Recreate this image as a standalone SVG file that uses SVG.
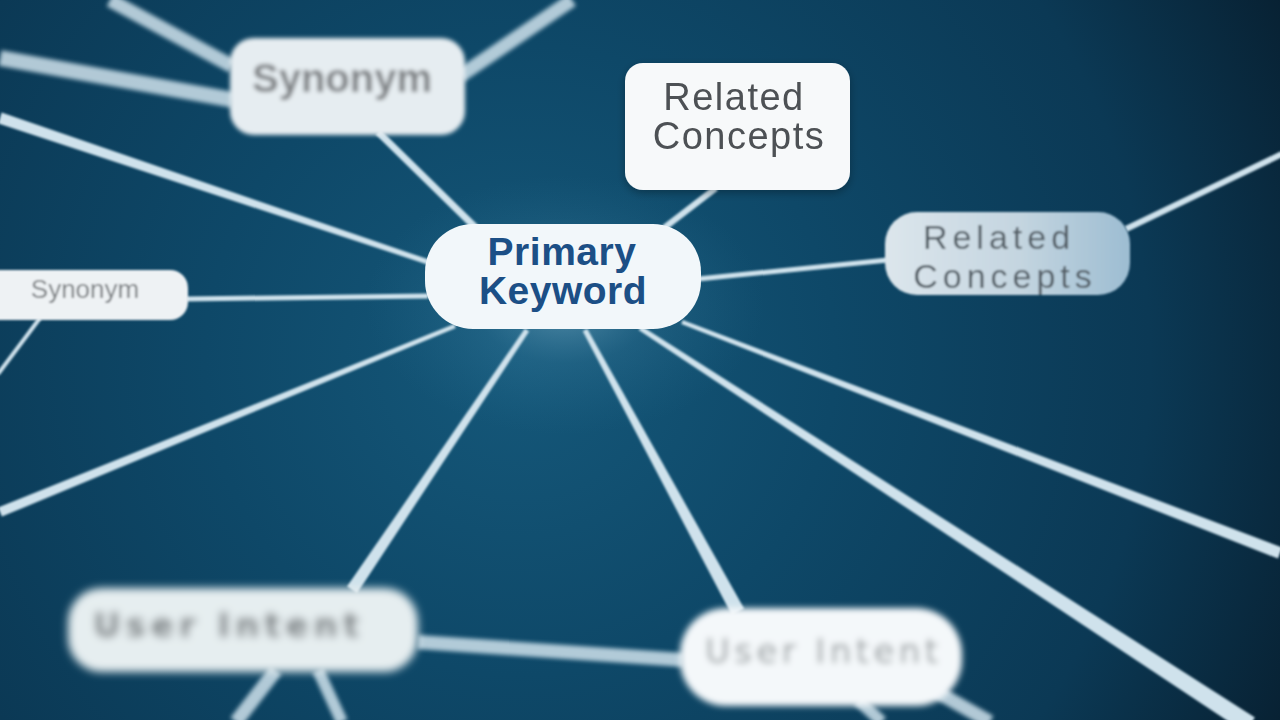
<svg xmlns="http://www.w3.org/2000/svg" width="1280" height="720" viewBox="0 0 1280 720">
<defs>
  <radialGradient id="bg" gradientUnits="userSpaceOnUse" cx="520" cy="360" r="900">
    <stop offset="0" stop-color="#15587a"/>
    <stop offset="0.35" stop-color="#0e4868"/>
    <stop offset="0.7" stop-color="#0b3955"/>
    <stop offset="1" stop-color="#071b2a"/>
  </radialGradient>
  <radialGradient id="glow" cx="0.5" cy="0.5" r="0.5">
    <stop offset="0" stop-color="#a9d6ea" stop-opacity="0.45"/>
    <stop offset="0.45" stop-color="#5ea2c3" stop-opacity="0.15"/>
    <stop offset="1" stop-color="#3a87ab" stop-opacity="0"/>
  </radialGradient>
  <linearGradient id="rcRight" x1="0" y1="0" x2="1" y2="0">
    <stop offset="0" stop-color="#dce6ec"/>
    <stop offset="0.55" stop-color="#c4d5e0"/>
    <stop offset="1" stop-color="#9dbdd2"/>
  </linearGradient>
  <filter id="b1" x="-20%" y="-20%" width="140%" height="140%"><feGaussianBlur stdDeviation="1"/></filter>
  <filter id="b2" x="-20%" y="-40%" width="140%" height="180%"><feGaussianBlur stdDeviation="2"/></filter>
  <filter id="b3" x="-20%" y="-40%" width="140%" height="180%"><feGaussianBlur stdDeviation="3"/></filter>
  <filter id="b5" x="-20%" y="-40%" width="140%" height="180%"><feGaussianBlur stdDeviation="4.5"/></filter>
  <filter id="shadow" x="-20%" y="-30%" width="140%" height="160%">
    <feGaussianBlur in="SourceAlpha" stdDeviation="4"/>
    <feOffset dx="0" dy="3"/>
    <feComponentTransfer><feFuncA type="linear" slope="0.3"/></feComponentTransfer>
    <feMerge><feMergeNode/><feMergeNode in="SourceGraphic"/></feMerge>
  </filter>
  <style>
    .ln { stroke: #cfe2ec; stroke-linecap: butt; fill: none; }
    .lf { fill: #cfe2ec; }
    .lbl { font-family: "Liberation Sans", Arial, sans-serif; text-anchor: middle; }
    .ui { font-family: "DejaVu Sans", "Liberation Sans", sans-serif; }
  </style>
</defs>

<rect x="0" y="0" width="1280" height="720" fill="url(#bg)"/>
<ellipse cx="565" cy="305" rx="200" ry="130" fill="url(#glow)"/>

<g id="connectors">
  <g filter="url(#b2)" opacity="0.85">
    <line class="ln" x1="110" y1="0" x2="232" y2="66" stroke-width="14"/>
    <line class="ln" x1="0" y1="58" x2="234" y2="100" stroke-width="16"/>
    <line class="ln" x1="460" y1="76" x2="572" y2="0" stroke-width="14"/>
    <line class="ln" x1="418" y1="642" x2="684" y2="660" stroke-width="14"/>
    <line class="ln" x1="276" y1="670" x2="236" y2="722" stroke-width="14"/>
    <line class="ln" x1="318" y1="670" x2="342" y2="722" stroke-width="12"/>
    <line class="ln" x1="858" y1="700" x2="882" y2="722" stroke-width="12"/>
    <line class="ln" x1="930" y1="688" x2="990" y2="722" stroke-width="14"/>
  </g>
  <g filter="url(#b1)">
    <polygon class="lf" points="-1.6,123.5 427.2,264.4 428.8,259.6 1.6,112.5"/>
    <line class="ln" x1="378" y1="132" x2="476" y2="228" stroke-width="7"/>
    <line class="ln" x1="716" y1="188" x2="664" y2="228" stroke-width="6"/>
    <line class="ln" x1="698" y1="279" x2="888" y2="260" stroke-width="5"/>
    <line class="ln" x1="1126" y1="229" x2="1282" y2="154" stroke-width="6"/>
    <line class="ln" x1="428" y1="296" x2="186" y2="299" stroke-width="5"/>
    <line class="ln" x1="40" y1="318" x2="-2" y2="374" stroke-width="4"/>
    <polygon class="lf" points="455.8,327.9 1.9,516.6 -1.9,507.4 454.2,324.1"/>
    <polygon class="lf" points="524.9,328.6 347.0,586.6 357.0,593.4 529.1,331.4"/>
    <polygon class="lf" points="582.8,331.2 731.9,615.3 744.2,608.7 587.2,328.8"/>
    <polygon class="lf" points="638.6,330.1 1245.1,732.5 1254.9,717.5 641.4,325.9"/>
    <polygon class="lf" points="681.3,323.9 1278,558.6 1282,547.4 682.7,320.1"/>
  </g>
</g>

<g id="node-synonym-top" filter="url(#b2)">
  <rect x="230" y="38" width="235" height="97" rx="24" fill="#e6edf1"/>
  <text class="lbl" x="342" y="92" font-size="40" font-weight="bold" fill="#7b7f82">Synonym</text>
</g>

<g id="node-related-top" filter="url(#shadow)">
  <rect x="625" y="63" width="225" height="127" rx="18" fill="#f7f9fa"/>
  <text class="lbl" x="734" y="110" font-size="38" letter-spacing="1.5" fill="#4e5154">Related</text>
  <text class="lbl" x="739" y="149" font-size="38" letter-spacing="1.5" fill="#4e5154">Concepts</text>
</g>

<g id="node-primary">
  <rect x="425" y="224" width="276" height="105" rx="48" fill="#f2f7fa"/>
  <text class="lbl" x="562" y="265" font-size="39" font-weight="bold" letter-spacing="0.5" fill="#1c4f86">Primary</text>
  <text class="lbl" x="563" y="304" font-size="39" font-weight="bold" letter-spacing="0.5" fill="#1c4f86">Keyword</text>
</g>

<g id="node-related-right" filter="url(#b1)">
  <rect x="885" y="212" width="245" height="83" rx="32" fill="url(#rcRight)"/>
  <text class="lbl" x="999" y="249" font-size="34" letter-spacing="5" fill="#525d65">Related</text>
  <text class="lbl" x="1005" y="288" font-size="34" letter-spacing="5" fill="#525d65">Concepts</text>
</g>

<g id="node-synonym-left" filter="url(#b1)">
  <rect x="-20" y="270" width="208" height="50" rx="18" fill="#eef2f4"/>
  <text class="lbl" x="85" y="298" font-size="26" fill="#7a7e81">Synonym</text>
</g>

<g id="node-user-intent-left" filter="url(#b5)">
  <rect x="68" y="588" width="350" height="84" rx="34" fill="#e6eef0"/>
  <text class="ui" x="93" y="637" font-size="34" font-weight="bold" letter-spacing="5" fill="#6a7073">User Intent</text>
</g>

<g id="node-user-intent-right" filter="url(#b3)">
  <rect x="680" y="608" width="282" height="98" rx="46" fill="#f4f8fa"/>
  <text class="ui" x="705" y="663" font-size="34" letter-spacing="4.4" fill="#8e9497">User Intent</text>
</g>
</svg>
